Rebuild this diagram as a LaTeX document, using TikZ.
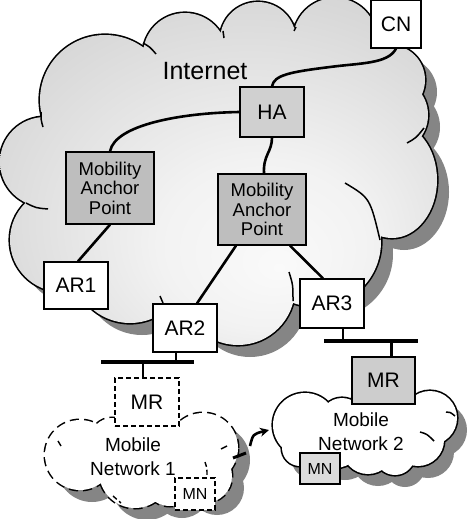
\documentclass[tikz,border=0pt]{standalone}
\usepackage{fontspec}
\setmainfont{Liberation Sans}
\usetikzlibrary{arrows.meta}
\definecolor{shadowc}{HTML}{858585}
\definecolor{mapfill}{HTML}{BEBEBE}
\definecolor{hafill}{HTML}{D0D0D0}
\definecolor{mrfill}{HTML}{CDCDCD}
\definecolor{mnfill}{HTML}{DCDCDC}
\pgfdeclareradialshading{inetshade}{\pgfpoint{7bp}{-14bp}}{color(0bp)=(black!2); color(12bp)=(black!5); color(30bp)=(black!15); color(42bp)=(black!21); color(50bp)=(black!23)}
% Internet cloud
\def\inetC{(105,100) circle[radius=65pt] (185,55) circle[radius=42pt] (258,40) circle[radius=38pt] (335,40) circle[radius=42pt] (390,80) circle[radius=35pt] (390,115) circle[radius=38pt] (392,180) ellipse[x radius=45pt, y radius=58pt] (316,242) circle[radius=65pt] (238,288) circle[radius=57pt] (185,270) circle[radius=40pt] (130,265) circle[radius=58pt] (62,240) circle[radius=52pt] (45,162) circle[radius=45pt]}
\def\inetP{(390,80) -- (335,40) -- (258,40) -- (185,55) -- (105,100) -- (45,162) -- (62,240) -- (130,265) -- (185,270) -- (238,288) -- (316,242) -- (392,180) -- (390,115) -- cycle}
% Mobile network 1
\def\mnaC{(80,455) circle[radius=35pt] (112,440) circle[radius=22pt] (150,440) circle[radius=28pt] (203,448) circle[radius=35pt] (205,476) circle[radius=27pt] (170,478) circle[radius=28pt] (135,472) circle[radius=36pt]}
\def\mnaP{(203,448) -- (150,440) -- (112,440) -- (80,455) -- (135,472) -- (170,478) -- (205,476) -- cycle}
% Mobile network 2
\def\mnbC{(305,425) circle[radius=32pt] (300,448) circle[radius=18pt] (342,420) circle[radius=22pt] (380,410) circle[radius=30pt] (430,418) circle[radius=27pt] (418,440) circle[radius=26pt] (395,455) circle[radius=20pt] (368,448) circle[radius=26pt] (335,440) circle[radius=28pt]}
\def\mnbP{(430,418) -- (380,410) -- (342,420) -- (305,425) -- (300,448) -- (335,440) -- (368,448) -- (395,455) -- (418,440) -- cycle}
\begin{document}
\begin{tikzpicture}[x=1pt,y=-1pt,
  box/.style={draw=black, line width=1.3pt, fill=white, inner sep=0pt, align=center},
  bigtxt/.style={font=\fontsize{21}{24}\selectfont},
  maptxt/.style={font=\fontsize{18.5}{19.5}\selectfont},
  smalltxt/.style={font=\fontsize{16}{18}\selectfont},
  dashbox/.style={dash pattern=on 5pt off 3pt},
  link/.style={line width=2.6pt},
  bar/.style={line width=3.6pt},
  crease/.style={line width=1.5pt},
  cloudline/.style={line width=3.2pt}]
\useasboundingbox (0,0) rectangle (474,519);
\fill[white] (0,0) rectangle (474,519);
% ---- Internet cloud
\fill[shadowc, shift={(12,12)}] \inetC \inetP;
\draw[cloudline] \inetC;
\shade[shading=inetshade] \inetC \inetP;
\draw[crease] (143,43) .. controls (150,47) .. (156,54);
\draw[crease] (223,31) -- (224,38);
\draw[crease] (294,31) -- (296,27);
\draw[crease] (41,112) .. controls (41,120) .. (43,127);
\draw[crease] (26,203) .. controls (36,208) .. (48,209);
\draw[crease] (424,128) .. controls (416,138) .. (407,143);
\draw[crease] (345,183) .. controls (370,198) .. (380,240);
\draw[crease] (160,296) -- (163,303);
\draw[crease] (289,272) .. controls (293,285) .. (293,301);
\node[font=\fontsize{25}{28}\selectfont] (inet) at (205,71) {Internet};
% ---- nodes in Internet
\node[box, bigtxt, minimum width=50pt, minimum height=48pt] (CN) at (396,24) {CN};
\node[box, bigtxt, fill=hafill, minimum width=64pt, minimum height=50pt] (HA) at (272,112) {HA};
\node[box, maptxt, fill=mapfill, minimum width=88pt, minimum height=72pt] (MAP1) at (110,188) {Mobility\\Anchor\\Point};
\node[box, maptxt, fill=mapfill, minimum width=88pt, minimum height=71pt] (MAP2) at (262,209.5) {Mobility\\Anchor\\Point};
\node[box, bigtxt, minimum width=64pt, minimum height=47pt] (AR1) at (76,285.5) {AR1};
\node[box, bigtxt, minimum width=64pt, minimum height=48pt] (AR2) at (185,328) {AR2};
\node[box, bigtxt, minimum width=64pt, minimum height=49pt] (AR3) at (332,303.5) {AR3};
% ---- links
\draw[link] (CN.south) .. controls (388,64) and (360,63) .. (330,67) .. controls (290,72) and (274,75) .. (HA.north);
\draw[link] (HA.west) .. controls (180,113) and (115,125) .. (MAP1.north);
\draw[link] (HA.south) .. controls (272,152) and (263,155) .. ([xshift=2pt]MAP2.north);
\draw[link] (MAP1.south) -- ([xshift=2pt]AR1.north);
\draw[link] ([xshift=-26pt]MAP2.south) -- ([xshift=12pt]AR2.north);
\draw[link] ([xshift=28pt]MAP2.south) -- ([xshift=-9pt]AR3.north);
% ---- bars
\coordinate (b2l) at (101,362);
\coordinate (b2r) at (194,362);
\coordinate (b3l) at (324,341);
\coordinate (b3r) at (418,341);
\draw[bar] (b2l) -- (b2r);
\draw[bar] (b3l) -- (b3r);
% ---- Mobile network 1
\fill[shadowc, shift={(12,12)}] \mnaC \mnaP;
\draw[line width=3pt, dash pattern=on 9pt off 5pt] \mnaC;
\fill[white] \mnaC \mnaP;
\draw[line width=1.4pt, dash pattern=on 5pt off 3pt] (205,462) .. controls (207,468) .. (207,477);
\draw[line width=1.4pt, dash pattern=on 5pt off 3pt] (113,496) .. controls (117,500) .. (121,503);
\draw[line width=1.4pt] (58,441) -- (61,446);
\draw[line width=1.4pt] (221,449) -- (227,446);
\node[align=center, font=\fontsize{19}{24}\selectfont] (mn1txt) at (133,457) {Mobile\\Network 1};
\node[box, bigtxt, dashbox, minimum width=64pt, minimum height=48pt] (MR1) at (147,402) {MR};
\node[box, smalltxt, dashbox, minimum width=40pt, minimum height=32pt] (MN1) at (195,494) {MN};
\draw[line width=3pt] (233,458) -- (246,453);
% ---- Mobile network 2
\fill[shadowc, shift={(10,12)}] \mnbC \mnbP;
\draw[cloudline] \mnbC;
\fill[white] \mnbC \mnbP;
\draw[crease] (420,432) .. controls (427,434) .. (434,441);
\draw[crease] (446,412) .. controls (450,412) .. (455,416);
\node[align=center, font=\fontsize{19}{24}\selectfont] (mn2txt) at (361,432) {Mobile\\Network 2};
\node[box, bigtxt, fill=mrfill, minimum width=63pt, minimum height=47pt] (MR2) at (383.5,380.5) {MR};
\node[box, smalltxt, fill=mnfill, minimum width=40pt, minimum height=31pt] (MN2) at (320,468.5) {MN};
% ---- stems
\draw[link] ([xshift=-9pt]AR2.south) -- ([xshift=-9pt]AR2.south |- b2l);
\draw[link] ([xshift=-4pt]MR1.north) -- ([xshift=-4pt]MR1.north |- b2l);
\draw[link] ([xshift=11pt]AR3.south) -- ([xshift=11pt]AR3.south |- b3l);
\draw[link] ([xshift=8pt]MR2.north) -- ([xshift=8pt]MR2.north |- b3l);
% ---- move arrow
\coordinate (arrS) at (250,446);
\coordinate (arrE) at (269,430);
\draw[link, -{Stealth[length=9pt,width=9pt]}] (arrS) .. controls (253,434) .. (arrE);
\end{tikzpicture}
\end{document}
